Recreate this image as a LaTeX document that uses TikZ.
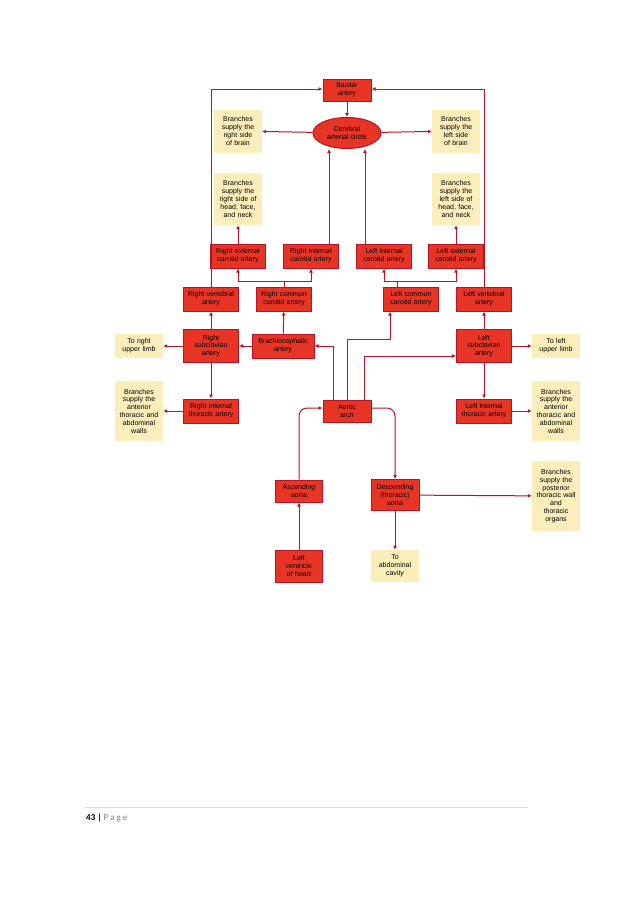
\documentclass[tikz,border=0pt]{standalone}
\usepackage{fontspec}
\setmainfont{Liberation Sans}
\newfontfamily\pagefont{Carlito}
\usetikzlibrary{shapes.geometric,arrows.meta}
\definecolor{artred}{RGB}{232,52,36}
\definecolor{artline}{RGB}{180,20,40}
\definecolor{notefill}{RGB}{252,238,186}

\tikzset{
  art/.style={draw=artline,fill=artred,line width=1pt,align=center,inner sep=1pt,
    text width=53pt,minimum width=55pt,minimum height=24pt,
    font=\fontsize{7}{7.8}\selectfont},
  note/.style={fill=notefill,align=center,inner sep=1pt,text width=46pt,
    minimum width=47pt,font=\fontsize{7}{7.8}\selectfont},
  link/.style={draw=artline,line width=1pt,-{Latex[length=4pt,width=4pt]}}
}

\begin{document}
\begin{tikzpicture}[x=1pt,y=-1pt]
\useasboundingbox (0,0) rectangle (638,902);

% top
\node[art,minimum width=48pt,text width=44pt,minimum height=22pt] (basilar) at (347,90) {Basilar\\artery};
\node[ellipse,draw=artline,fill=artred,line width=1pt,align=center,inner sep=0pt,
  minimum width=68pt,minimum height=31pt,font=\fontsize{7}{7.8}\selectfont] (circle) at (347,133) {Cerebral\\arterial circle};
\node[note,minimum height=43pt] (brainR) at (238,131) {Branches\\supply the\\right side\\of brain};
\node[note,minimum height=43pt] (brainL) at (456,131) {Branches\\supply the\\left side\\of brain};
\node[note,minimum height=52pt] (headR) at (238,199) {Branches\\supply the\\right side of\\head, face,\\and neck};
\node[note,minimum height=52pt] (headL) at (456,199) {Branches\\supply the\\left side of\\head, face,\\and neck};

% carotids
\node[art] (rext) at (238,256) {Right external\\carotid artery};
\node[art] (rint) at (311,256) {Right internal\\carotid artery};
\node[art] (lint) at (384,256) {Left internal\\carotid artery};
\node[art] (lext) at (456,256) {Left external\\carotid artery};
\node[art] (rvert) at (211,299) {Right vertebral\\artery};
\node[art] (rcom) at (284,299) {Right common\\carotid artery};
\node[art] (lcom) at (411,299) {Left common\\carotid artery};
\node[art] (lvert) at (484,299) {Left vertebral\\artery};

% subclavians
\node[art,minimum height=33pt] (rsub) at (211,346) {Right\\subclavian\\artery};
\node[art,minimum width=62pt,text width=60pt] (brach) at (283,346) {Brachiocephalic\\artery};
\node[note,minimum height=24pt] (limbR) at (139,346) {To right\\upper limb};
\node[art,minimum height=33pt] (lsub) at (484,346) {Left\\subclavian\\artery};
\node[note,minimum height=24pt] (limbL) at (556,346) {To left\\upper limb};
\node[art] (rit) at (211,411) {Right internal\\thoracic artery};
\node[note,minimum height=60pt] (wallR) at (139,411) {Branches\\supply the\\anterior\\thoracic and\\abdominal\\walls};
\node[art,minimum width=48pt,text width=44pt,minimum height=22pt] (arch) at (347,411) {Aortic\\arch};
\node[art] (lit) at (484,411) {Left internal\\thoracic artery};
\node[note,minimum height=60pt] (wallL) at (556,411) {Branches\\supply the\\anterior\\thoracic and\\abdominal\\walls};

% aorta
\node[art,minimum width=47pt,text width=44pt,minimum height=22pt] (asc) at (299,491) {Ascending\\aorta};
\node[art,minimum width=48pt,text width=46pt,minimum height=31pt] (desc) at (395,495) {Descending\\(thoracic)\\aorta};
\node[note,minimum height=70pt] (post) at (556,496) {Branches\\supply the\\posterior\\thoracic wall\\and\\thoracic\\organs};
\node[art,minimum width=47pt,text width=44pt,minimum height=32pt] (ventr) at (299,566) {Left\\ventricle\\of heart};
\node[note,minimum height=32pt] (abdo) at (395,566) {To\\abdominal\\cavity};

% connectors
\draw[link] (basilar) -- (circle);
\draw[link] (circle) -- (brainR);
\draw[link] (circle) -- (brainL);
\draw[link] (rvert.north) |- (basilar.west |- 0,89);
\draw[link] (lvert.north) |- (basilar.east |- 0,89);
\draw[link] (rint.north -| 329,0) -- (circle.south -| 329,0);
\draw[link] (lint.north -| 365,0) -- (circle.south -| 365,0);
\draw[link] (rext) -- (headR);
\draw[link] (lext) -- (headL);
\draw[link] (rcom.north) -- (284,281) -| (rext.south);
\draw[link] (rcom.north) -- (284,281) -| (rint.south);
\draw[link] (lcom.north -| 397,0) -- (397,281) -| (lint.south);
\draw[link] (lcom.north -| 397,0) -- (397,281) -| (lext.south);
\draw[link] (rsub) -- (rvert);
\draw[link] (brach) -- (rcom);
\draw[link] (brach) -- (rsub);
\draw[link] (rsub) -- (limbR);
\draw[link] (rsub) -- (rit);
\draw[link] (rit) -- (wallR);
\draw[link] (lsub) -- (lvert);
\draw[link] (lsub) -- (limbL);
\draw[link] (lsub) -- (lit);
\draw[link] (lit) -- (wallL);
\draw[link] (arch.north -| 333,0) |- (brach.east);
\draw[link] (arch.north) |- (390,339) -- (lcom.south -| 390,0);
\draw[link] (arch.north -| 364,0) |- (lsub.west |- 0,356);
\draw[link,rounded corners=8pt] (arch.east |- 0,408) -| (desc.north);
\draw[link,rounded corners=8pt] (asc.north) |- (arch.west |- 0,408);
\draw[link] (ventr) -- (asc);
\draw[link] (desc) -- (abdo);
\draw[link] (desc) -- (post);

% footer
\draw[gray!30] (85,807) -- (528,807);
\node[anchor=west,inner sep=0pt,font=\pagefont\fontsize{9}{10}\selectfont] (page) at (86,818)
  {\textbf{43} \textbf{|} \textcolor{gray}{P a g e}};
\end{tikzpicture}
\end{document}
